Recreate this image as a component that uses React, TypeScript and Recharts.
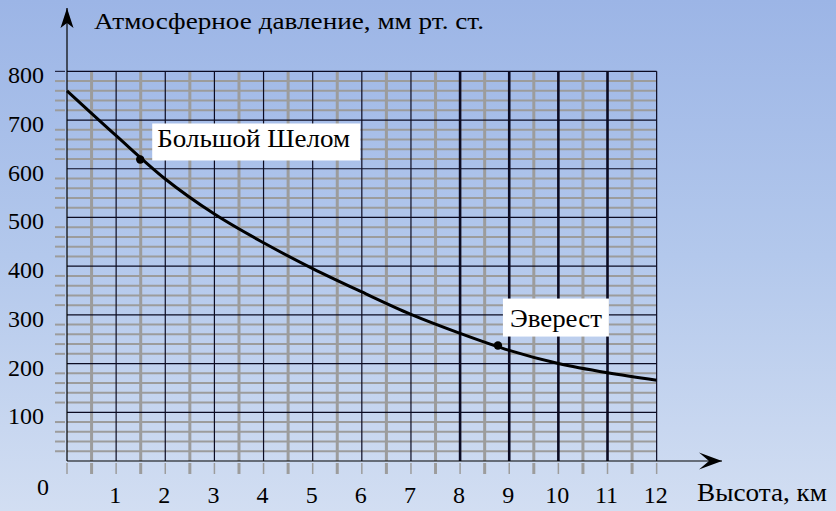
import React from "react";
import {
  ComposedChart,
  Line,
  Scatter,
  XAxis,
  YAxis,
  ReferenceLine,
  ReferenceDot,
} from "recharts";

// высота над уровнем моря, км
const heightsKm = [0, 1, 2, 3, 4, 5, 6, 7, 8, 9, 10, 11, 12];
// атмосферное давление, мм рт. ст.
const pressureMm = [760, 668, 579, 507, 448, 395, 347, 301, 262, 227, 200, 181, 166];

const peakNames = ["Большой Шелом", "Эверест"];
const peakHeightsKm = [1.49, 8.77];
const peakPressureMm = [619, 237];

const xTicks = [
  0, 0.5, 1, 1.5, 2, 2.5, 3, 3.5, 4, 4.5, 5, 5.5, 6, 6.5, 7, 7.5, 8, 8.5, 9, 9.5, 10, 10.5, 11,
  11.5, 12,
];
const xLabels = ["0", "1", "2", "3", "4", "5", "6", "7", "8", "9", "10", "11", "12"];
const yMajor = [100, 200, 300, 400, 500, 600, 700, 800];
const yMinor = [
  20, 40, 60, 80, 120, 140, 160, 180, 220, 240, 260, 280, 320, 340, 360, 380, 420, 440, 460, 480,
  520, 540, 560, 580, 620, 640, 660, 680, 720, 740, 760, 780,
];
const yLabels = ["100", "200", "300", "400", "500", "600", "700", "800"];
const boldVerticals = [8, 9, 10, 11];

const X_MAX = 13.33;
const Y_MAX = 930;
const GRID_X_END = 12;
const GRID_Y_END = 800;

const curve = heightsKm.map((h, i) => ({ h, p: pressureMm[i] }));
const peaks = peakNames.map((name, i) => ({ name, h: peakHeightsKm[i], p: peakPressureMm[i] }));

const peakLabelStyle = [
  { dx: 12, dy: -36, w: 208, h: 37, pad: 5, base: 24, tw: 193 },
  { dx: 5, dy: -47, w: 106, h: 38, pad: 7, base: 28, tw: 92 },
];

const FONT = "'Liberation Serif', 'Times New Roman', serif";
const GRAY = "#9c9c9c";
const INK = "#0b0b22";

const XTick = (props: any) => {
  const { x, y, payload } = props;
  const v = payload.value;
  const isInt = Number.isInteger(v);
  const idx = heightsKm.indexOf(v);
  return (
    <g>
      <line x1={x} x2={x} y1={y} y2={y + 11} stroke={GRAY} strokeWidth={isInt ? 1.5 : 3} />
      {isInt && v !== 0 && (
        <text x={x - 1} y={y + 40} textAnchor="middle" fontFamily={FONT} fontSize={24} fill="#000">
          {xLabels[idx]}
        </text>
      )}
      {v === 0 && (
        <text x={x - 24} y={y + 32} textAnchor="middle" fontFamily={FONT} fontSize={24} fill="#000">
          {xLabels[0]}
        </text>
      )}
    </g>
  );
};

const YTick = (props: any) => {
  const { x, y, payload } = props;
  const v = payload.value;
  const idx = yMajor.indexOf(v);
  if (idx < 0) {
    return <line x1={x - 10} x2={x} y1={y} y2={y} stroke={GRAY} strokeWidth={2} />;
  }
  return (
    <g>
      {v === 800 && <line x1={x - 10} x2={x} y1={y} y2={y} stroke={INK} strokeWidth={1} />}
      <text x={x - 21} y={y + 12} textAnchor="end" fontFamily={FONT} fontSize={24} fill="#000">
        {yLabels[idx]}
      </text>
    </g>
  );
};

const PeakShape = (props: any) => {
  const { cx, cy, index } = props;
  const s = peakLabelStyle[index] || peakLabelStyle[0];
  return (
    <g>
      <circle cx={cx} cy={cy} r={4.2} fill="#000" />
      <rect x={cx + s.dx} y={cy + s.dy} width={s.w} height={s.h} fill="#fff" />
      <text
        x={cx + s.dx + s.pad}
        y={cy + s.dy + s.base}
        fontFamily={FONT}
        fontSize={26}
        fill="#000"
        textLength={s.tw}
        lengthAdjust="spacingAndGlyphs"
      >
        {peaks[index]?.name}
      </text>
    </g>
  );
};

const TitleLabel = (props: any) => {
  const vb = props.viewBox || {};
  return (
    <text
      x={vb.x + vb.width + 27}
      y={vb.y + 21}
      fontFamily={FONT}
      fontSize={23}
      fill="#000"
      textLength={390}
      lengthAdjust="spacingAndGlyphs"
    >
      Атмосферное давление, мм  рт. ст.
    </text>
  );
};

const XNameLabel = (props: any) => {
  const vb = props.viewBox || {};
  return (
    <text
      x={vb.x + vb.width - 25}
      y={vb.y + 40}
      fontFamily={FONT}
      fontSize={25}
      fill="#000"
      textLength={130}
      lengthAdjust="spacingAndGlyphs"
    >
      Высота, км
    </text>
  );
};

const ArrowUp = (props: any) => {
  const { cx, cy } = props;
  return (
    <path
      d={`M${cx},${cy} L${cx + 6.5},${cy + 20} L${cx},${cy + 15} L${cx - 6.5},${cy + 20} Z`}
      fill="#000"
    />
  );
};

const ArrowRight = (props: any) => {
  const { cx, cy } = props;
  return (
    <path
      d={`M${cx},${cy} L${cx - 23},${cy - 8.5} L${cx - 13},${cy} L${cx - 23},${cy + 8.5} Z`}
      fill="#000"
    />
  );
};

export default function App() {
  return (
    <div
      style={{
        position: "absolute",
        left: 0,
        top: 0,
        width: 836,
        height: 511,
        background: "linear-gradient(180deg, #9cb5e6 0%, #b3c8ec 50%, #d2def2 100%)",
      }}
    >
      <ComposedChart
        width={836}
        height={511}
        margin={{ top: 8, right: 114, left: 7, bottom: 0 }}
      >
        <XAxis
          type="number"
          dataKey="h"
          domain={[0, X_MAX]}
          ticks={xTicks}
          interval={0}
          tickSize={0}
          tickLine={false}
          height={50}
          axisLine={{ stroke: "#000", strokeWidth: 1.2 }}
          tick={<XTick />}
          label={{ content: <XNameLabel /> }}
        />
        <YAxis
          type="number"
          dataKey="p"
          domain={[0, Y_MAX]}
          ticks={[...yMinor, ...yMajor]}
          interval={0}
          tickSize={0}
          tickLine={false}
          width={60}
          axisLine={{ stroke: "#000", strokeWidth: 1.2 }}
          tick={<YTick />}
          label={{ content: <TitleLabel /> }}
        />
        {yMinor.map((v) => (
          <ReferenceLine
            key={"hm" + v}
            segment={[
              { x: 0, y: v },
              { x: GRID_X_END, y: v },
            ]}
            stroke={GRAY}
            strokeWidth={2}
          />
        ))}
        {xTicks
          .filter((v) => !Number.isInteger(v))
          .map((v) => (
            <ReferenceLine
              key={"vm" + v}
              segment={[
                { x: v, y: 0 },
                { x: v, y: GRID_Y_END },
              ]}
              stroke={GRAY}
              strokeWidth={3}
            />
          ))}
        {yMajor.map((v) => (
          <ReferenceLine
            key={"hM" + v}
            segment={[
              { x: 0, y: v },
              { x: GRID_X_END, y: v },
            ]}
            stroke={INK}
            strokeWidth={1.2}
          />
        ))}
        {heightsKm
          .filter((v) => v > 0)
          .map((v) => (
            <ReferenceLine
              key={"vM" + v}
              segment={[
                { x: v, y: 0 },
                { x: v, y: GRID_Y_END },
              ]}
              stroke={INK}
              strokeWidth={boldVerticals.includes(v) ? 2.6 : 1.2}
            />
          ))}
        <Line
          data={curve}
          dataKey="p"
          type="monotone"
          stroke="#000"
          strokeWidth={3}
          dot={false}
          activeDot={false}
          isAnimationActive={false}
        />
        <Scatter data={peaks} dataKey="p" shape={<PeakShape />} isAnimationActive={false} />
        <ReferenceDot x={0} y={Y_MAX} r={0} shape={<ArrowUp />} />
        <ReferenceDot x={X_MAX} y={0} r={0} shape={<ArrowRight />} />
      </ComposedChart>
    </div>
  );
}
